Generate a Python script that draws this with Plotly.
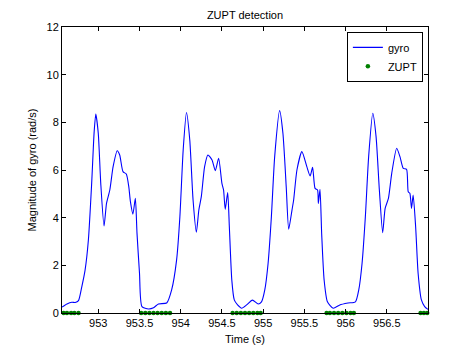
import plotly.graph_objects as go

# gyro magnitude samples (time s, rad/s)
time_s = [952.56, 952.62, 952.68, 952.72, 952.76, 952.80, 952.84, 952.88, 952.92, 952.95,
          952.97, 953.00, 953.03, 953.07, 953.10, 953.14, 953.18, 953.23, 953.26, 953.30,
          953.34, 953.37, 953.39, 953.42, 953.45, 953.47, 953.50, 953.53, 953.61, 953.67,
          953.73, 953.83, 953.89, 953.95, 953.99, 954.03, 954.07, 954.11, 954.15, 954.19,
          954.22, 954.25, 954.29, 954.33, 954.38, 954.42, 954.46, 954.50, 954.52, 954.54,
          954.57, 954.59, 954.62, 954.65, 954.69, 954.74, 954.80, 954.87, 954.94, 954.98,
          955.02, 955.06, 955.10, 955.14, 955.20, 955.24, 955.28, 955.31, 955.35, 955.37,
          955.41, 955.47, 955.53, 955.57, 955.60, 955.63, 955.66, 955.67, 955.69, 955.71,
          955.74, 955.78, 955.85, 955.93, 956.03, 956.12, 956.16, 956.20, 956.24, 956.28,
          956.33, 956.37, 956.41, 956.45, 956.48, 956.52, 956.56, 956.62, 956.66, 956.70,
          956.74, 956.76, 956.78, 956.80, 956.82, 956.85, 956.88, 956.92, 956.96, 957.00]
gyro = [0.25, 0.38, 0.45, 0.44, 0.52, 1.10, 1.80, 3.06, 5.45, 7.60,
        8.35, 7.54, 5.45, 3.65, 4.60, 5.16, 6.14, 6.81, 6.63, 5.93,
        5.83, 5.30, 4.67, 4.15, 4.81, 3.34, 1.68, 0.27, 0.17, 0.22,
        0.38, 0.42, 0.97, 2.22, 4.04, 6.84, 8.41, 7.26, 4.74, 3.39,
        4.32, 4.88, 6.14, 6.63, 6.42, 5.97, 6.49, 5.44, 5.16, 4.35,
        5.05, 3.62, 1.38, 0.55, 0.34, 0.20, 0.34, 0.54, 0.38, 0.47,
        0.97, 2.08, 4.04, 6.56, 8.49, 7.54, 5.30, 3.52, 4.32, 4.74,
        6.00, 6.77, 6.14, 5.75, 6.11, 5.23, 5.16, 4.60, 5.19, 3.34,
        1.38, 0.47, 0.20, 0.34, 0.42, 0.47, 0.97, 2.08, 4.04, 6.56,
        8.38, 7.40, 5.16, 3.37, 4.39, 4.81, 5.86, 6.91, 6.56, 6.07,
        6.03, 5.09, 5.02, 4.39, 4.95, 3.62, 1.67, 0.55, 0.27, 0.15]

# ZUPT detections (time s), value 0
zupt_time = [952.58, 952.62, 952.67, 952.71, 952.76,
             953.52, 953.57, 953.62, 953.67, 953.72, 953.77, 953.82, 953.87,
             954.63, 954.68, 954.73, 954.78, 954.83, 954.88, 954.93, 954.97,
             955.77, 955.81, 955.86, 955.91, 955.96, 956.01, 956.06, 956.10,
             956.91, 956.95, 956.99]
zupt_val = [0] * len(zupt_time)

x_ticks = [953, 953.5, 954, 954.5, 955, 955.5, 956, 956.5]
y_ticks = [0, 2, 4, 6, 8, 10, 12]

fig = go.Figure()
fig.add_trace(go.Scatter(x=time_s, y=gyro, mode="lines", name="gyro",
                         line=dict(color="#0000ff", width=1.1, shape="spline", smoothing=0.6)))
fig.add_trace(go.Scatter(x=zupt_time, y=zupt_val, mode="markers", name="ZUPT",
                         marker=dict(color="#008000", size=4.5), cliponaxis=False))

font = "Liberation Sans, Arial, sans-serif"
fig.update_layout(
    width=474, height=354,
    margin=dict(l=62, r=46, t=27, b=41),
    paper_bgcolor="white", plot_bgcolor="white",
    font=dict(family=font, size=11, color="black"),
    title=dict(text="ZUPT detection", x=0.5, xref="paper", y=1 - 15 / 354, yanchor="middle",
               font=dict(size=11)),
    showlegend=True,
    legend=dict(x=0.986, y=0.983, xanchor="right", yanchor="top",
                bordercolor="black", borderwidth=1, bgcolor="white",
                font=dict(size=11), tracegroupgap=0),
)
fig.update_xaxes(range=[952.56, 957.0], tickvals=x_ticks, ticktext=[str(t) for t in x_ticks],
                 ticks="inside", ticklen=4, tickcolor="black", showline=True, linecolor="black",
                 linewidth=1, mirror="ticks", showgrid=False, zeroline=False, automargin=False,
                 tickfont=dict(size=11),
                 title=dict(text="Time (s)", standoff=7, font=dict(size=11)))
fig.update_yaxes(range=[0, 12], tickvals=y_ticks, ticks="inside", ticklen=4, tickcolor="black",
                 showline=True, linecolor="black", linewidth=1, mirror="ticks", automargin=False,
                 showgrid=False, zeroline=False, tickfont=dict(size=11),
                 title=dict(text="Magnitude of gyro (rad/s)", standoff=7, font=dict(size=11)))

fig.write_html("out.html")
